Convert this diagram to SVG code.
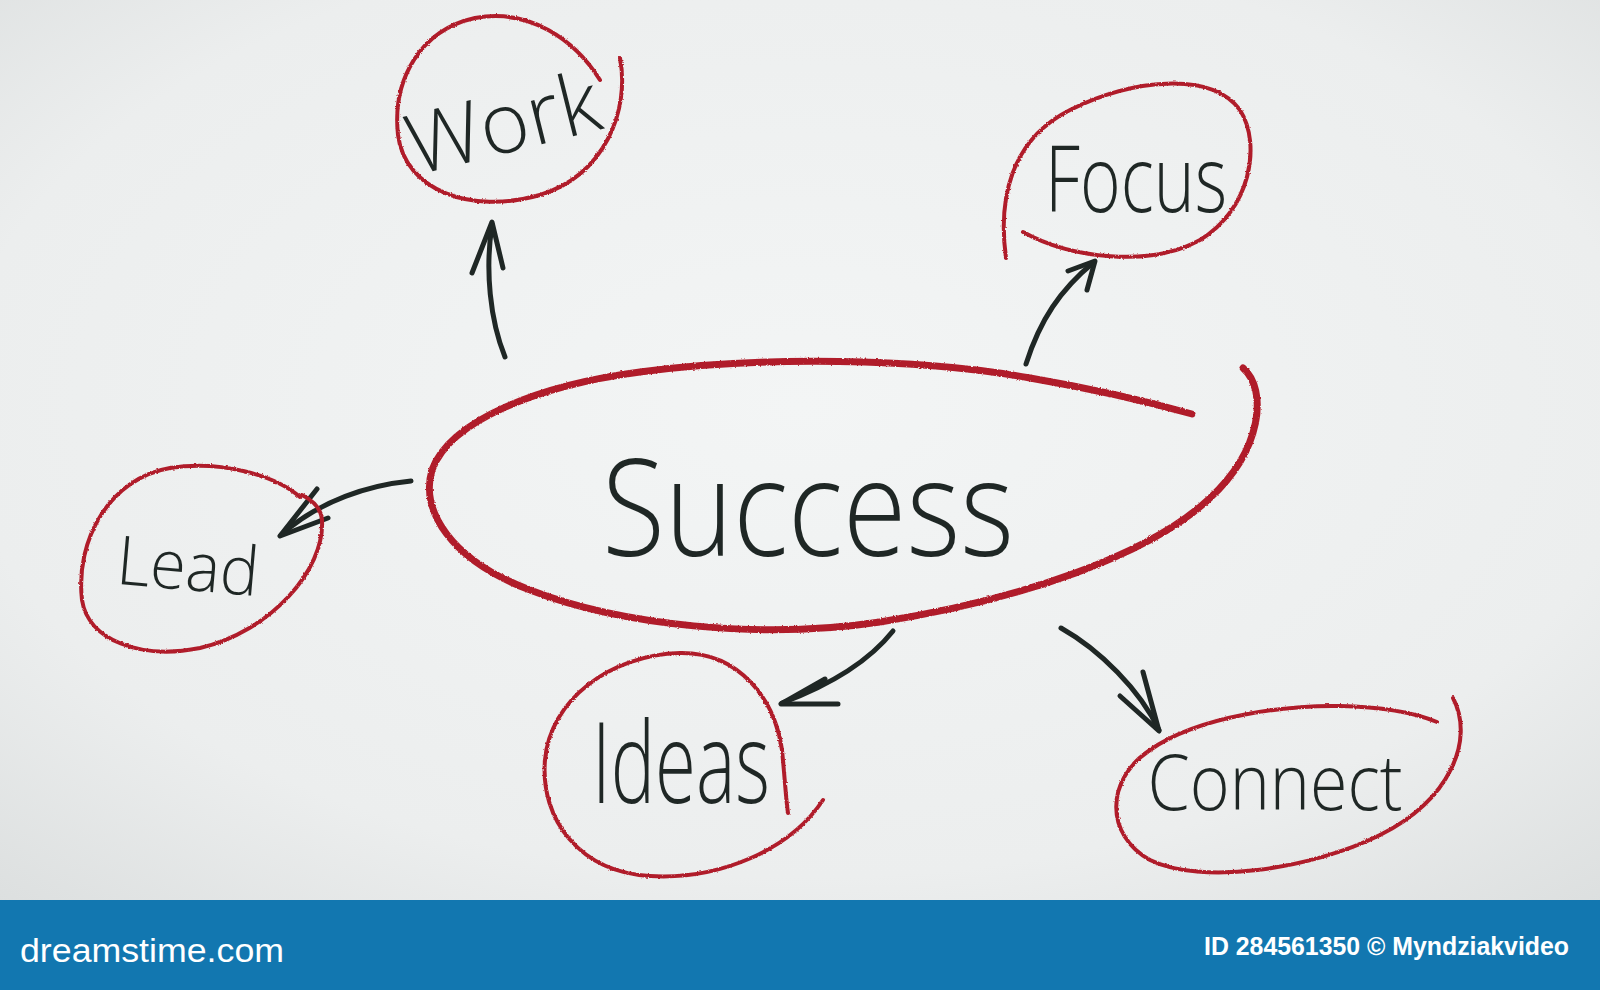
<svg xmlns="http://www.w3.org/2000/svg" width="1600" height="990" viewBox="0 0 1600 990">
  <defs>
    <radialGradient id="paper" cx="50%" cy="45%" r="75%">
      <stop offset="0" stop-color="#f3f5f5"/>
      <stop offset="0.7" stop-color="#eceeee"/>
      <stop offset="1" stop-color="#dcdfdf"/>
    </radialGradient>
    <filter id="rough" x="-5%" y="-5%" width="110%" height="110%">
      <feTurbulence type="fractalNoise" baseFrequency="0.6" numOctaves="2" seed="3" result="n"/>
      <feDisplacementMap in="SourceGraphic" in2="n" scale="2.5" xChannelSelector="R" yChannelSelector="G"/>
    </filter>
    <style>
      .ring { fill: none; stroke: #b01e2c; stroke-linecap: round; stroke-linejoin: round; filter: url(#rough); }
      .thin { stroke-width: 4; }
      .thick { stroke-width: 7; }
      .arrow { fill: none; stroke: #1f2725; stroke-width: 5; stroke-linecap: round; stroke-linejoin: round; }
      .label { font-family: "Open Sans", "Liberation Sans", sans-serif; fill: #1f2725; text-anchor: middle; font-weight: 300; }
      .bar { font-family: "Liberation Sans Narrow", "Liberation Sans", sans-serif; fill: #ffffff; }
    </style>
  </defs>

  <rect x="0" y="0" width="1600" height="900" fill="url(#paper)"/>

  <g id="connectors">
    <path class="arrow" d="M505,357 C490,320 485,270 492,225"/>
    <path class="arrow" d="M472,273 L492,222 L503,268"/>
    <path class="arrow" d="M1026,364 C1040,320 1060,290 1094,262"/>
    <path class="arrow" d="M1068,271 L1095,261 L1087,290"/>
    <path class="arrow" d="M411,481 C370,485 320,500 281,535"/>
    <path class="arrow" d="M317,489 L280,536 L328,518"/>
    <path class="arrow" d="M893,631 C870,660 830,685 782,703"/>
    <path class="arrow" d="M825,679 L781,704 L838,704"/>
    <path class="arrow" d="M1061,628 C1100,650 1140,690 1159,730"/>
    <path class="arrow" d="M1120,696 L1159,731 L1143,672"/>
  </g>

  <g id="node-success">
    <path class="ring thick" d="M1243,368 C1268,390 1262,450 1210,498 C1150,555 1020,600 880,622 C760,640 620,625 530,590 C450,560 420,510 432,470 C450,420 540,385 640,372 C760,356 920,358 1030,378 C1100,390 1160,405 1192,414"/>
    <text class="label" x="808" y="556" font-size="135" textLength="412" lengthAdjust="spacingAndGlyphs">Success</text>
  </g>

  <g id="node-work">
    <path class="ring thin" d="M620,58 C630,110 605,175 540,195 C470,215 405,190 398,135 C392,80 420,30 475,18 C530,8 575,40 600,80"/>
    <text class="label" font-size="84" textLength="196" lengthAdjust="spacingAndGlyphs" transform="translate(510,152) rotate(-14)">Work</text>
  </g>

  <g id="node-focus">
    <path class="ring thin" d="M1006,258 C998,200 1010,140 1070,110 C1130,80 1210,70 1240,110 C1262,145 1250,210 1200,240 C1150,268 1070,258 1023,232"/>
    <text class="label" x="1136" y="212" font-size="92" textLength="182" lengthAdjust="spacingAndGlyphs">Focus</text>
  </g>

  <g id="node-lead">
    <path class="ring thin" d="M300,497 C275,475 220,460 170,468 C110,478 75,540 82,600 C88,640 140,660 200,648 C270,632 325,570 322,520 C321,508 312,500 302,495"/>
    <text class="label" font-size="68" textLength="142" lengthAdjust="spacingAndGlyphs" transform="translate(186,590) rotate(5)">Lead</text>
  </g>

  <g id="node-ideas">
    <path class="ring thin" d="M823,800 C790,850 720,880 650,876 C580,872 540,820 545,760 C550,700 610,655 680,653 C740,652 775,700 782,750 C785,780 786,800 788,813"/>
    <text class="label" x="681" y="803" font-size="112" textLength="178" lengthAdjust="spacingAndGlyphs">Ideas</text>
  </g>

  <g id="node-connect">
    <path class="ring thin" d="M1453,698 C1475,740 1450,800 1380,835 C1310,870 1200,885 1150,860 C1105,835 1105,780 1150,750 C1200,715 1290,705 1340,706 C1390,707 1420,715 1437,722"/>
    <text class="label" x="1275" y="810" font-size="78" textLength="255" lengthAdjust="spacingAndGlyphs">Connect</text>
  </g>

  <g id="footer">
    <rect x="0" y="900" width="1600" height="90" fill="#1277b0"/>
    <text class="bar" x="20" y="962" font-size="34" textLength="264" lengthAdjust="spacingAndGlyphs">dreamstime.com</text>
    <text class="bar" x="1569" y="955" font-size="26" font-weight="700" text-anchor="end" textLength="365" lengthAdjust="spacingAndGlyphs">ID 284561350 © Myndziakvideo</text>
  </g>
</svg>
